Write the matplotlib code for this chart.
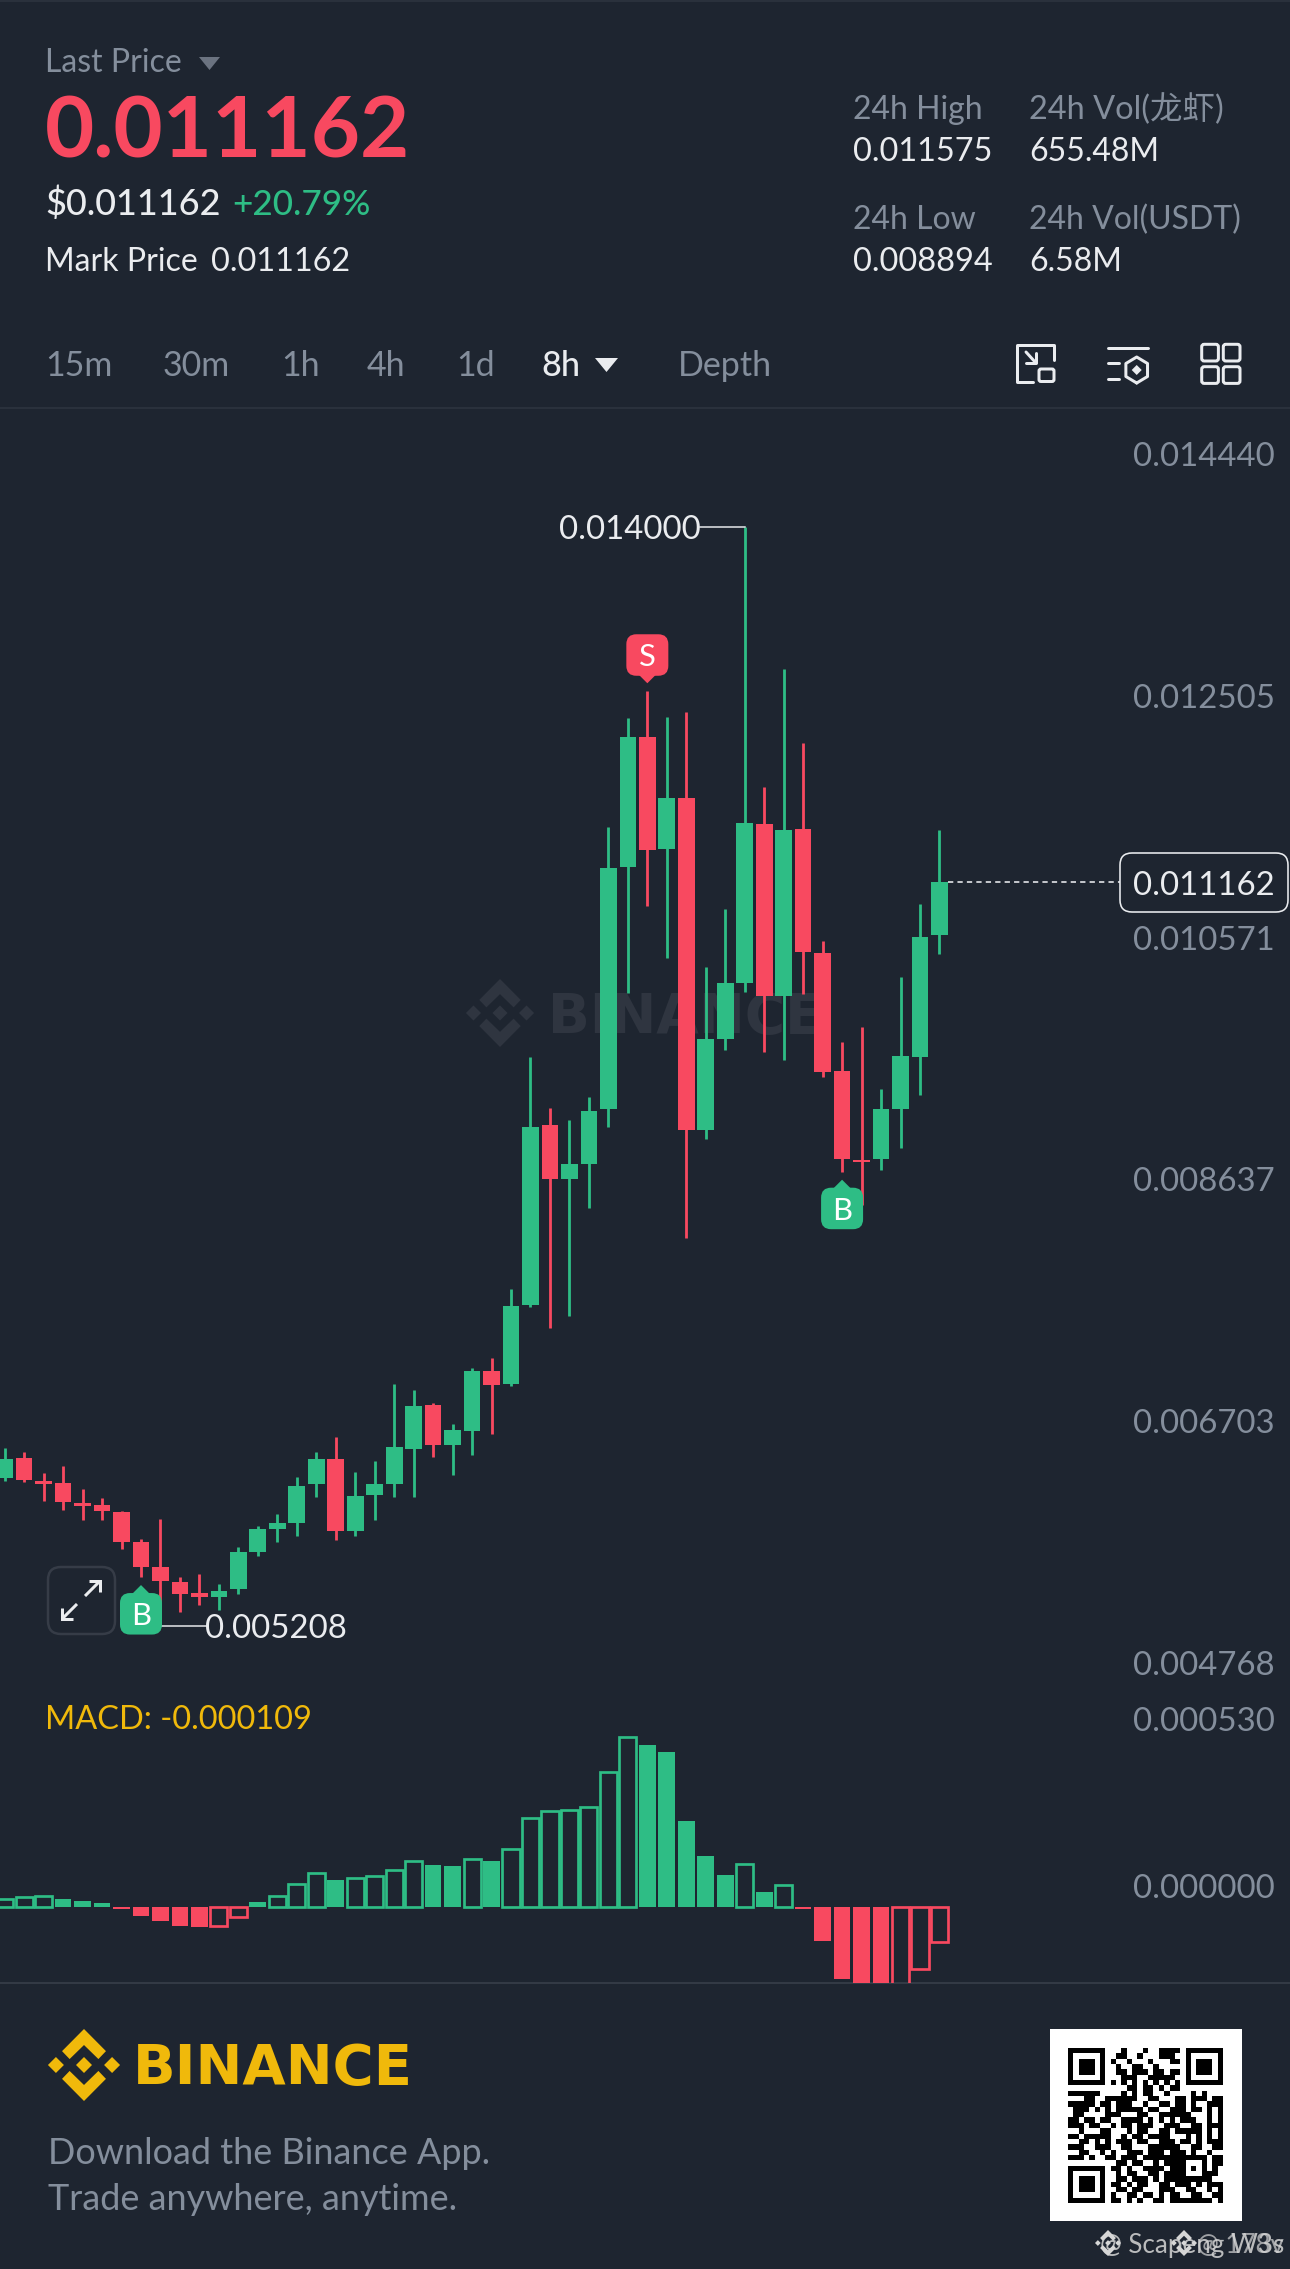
import numpy as np
import matplotlib
matplotlib.use("Agg")
import matplotlib.pyplot as plt
from matplotlib.patches import FancyBboxPatch, Polygon, Rectangle

W, H = 1290, 2269
BG = "#1E2530"
GREEN = "#2EBD85"
RED = "#F84960"
GRAY = "#848E9C"
WHITE = "#EAECEF"
YELLOW = "#F0B90B"
LINE = "#2F3640"

# ---------- data (prices in millionths) ----------
opens = [6392, 6547, 6368, 6347, 6189, 6173, 6118, 5877, 5675, 5555, 5467, 5437, 5501, 5795, 5984, 6030, 6344,
         6539, 5968, 6251, 6342, 6624, 6971, 6656, 6763, 7243, 7139, 7774, 9212, 8785, 8905, 9343, 11282, 12317,
         11421, 11832, 9177, 9901, 10353, 11624, 10245, 11581, 10594, 9647, 8937, 8945, 9340, 9761, 10735]
closes = [6542, 6374, 6344, 6195, 6168, 6128, 5880, 5677, 5563, 5461, 5437, 5488, 5795, 5981, 6027, 6323, 6539,
          5968, 6248, 6339, 6638, 6963, 6656, 6776, 7243, 7136, 7768, 9199, 8785, 8900, 9329, 11269, 12322, 11418,
          11832, 9172, 9901, 10353, 11634, 10245, 11578, 10597, 9641, 8940, 8916, 9340, 9767, 10722, 11162]
highs = [6627, 6595, 6427, 6488, 6299, 6232, 6123, 5901, 6059, 5595, 5619, 5539, 5840, 6008, 6099, 6400, 6595,
         6720, 6440, 6523, 7144, 7096, 6987, 6819, 7267, 7352, 7900, 9756, 9351, 9255, 9436, 11597, 12469, 12686,
         12477, 12517, 10479, 10941, 14000, 11917, 12862, 12269, 10687, 9876, 9997, 9500, 10399, 10986, 11573]
lows = [6368, 6358, 6203, 6131, 6056, 6056, 5819, 5597, 5208, 5315, 5376, 5331, 5464, 5768, 5877, 5923, 6240,
        5896, 5923, 6056, 6240, 6238, 6558, 6414, 6576, 6739, 7128, 7762, 7593, 7688, 8553, 9196, 10269, 10965,
        10554, 8313, 9100, 9817, 10282, 9801, 9737, 10261, 9601, 8841, 8574, 8854, 9033, 9452, 10581]
# macd histogram (millionths)
hist = [25, 31, 34, 23, 18, 11, -7, -28, -46, -59, -63, -61, -33, 15, 34, 70, 105, 83, 90, 97, 115, 142, 130,
        126, 150, 144, 179, 278, 298, 301, 311, 420, 529, 503, 482, 268, 157, 100, 133, 45, 68, -7, -108, -224,
        -260, -250, -245, -194, -109]
hist_hollow = [0, 1, 2, 11, 12, 14, 15, 16, 18, 19, 20, 21, 24, 26, 27, 28, 29, 30, 31, 32, 38, 40, 46, 47, 48]
price_ticks = [0.014440, 0.012505, 0.010571, 0.008637, 0.006703, 0.004768]
macd_ticks = [0.000530, 0.000000]
price_low, price_high = 0.004613, 0.014937
macd_low, macd_high = -0.000238, 0.000551
x_low, x_high = -0.24, 66.0

tabs = ["15m", "30m", "1h", "4h", "1d", "8h", "Depth"]
tab_x = [45, 163, 281, 367, 456, 541, 678]

opens, closes, highs, lows = [np.array(a) * 1e-6 for a in (opens, closes, highs, lows)]
hist = np.array(hist) * 1e-6
idx = np.arange(len(opens))

FONT = ["Lato", "Noto Sans CJK SC", "DejaVu Sans"]
plt.rcParams["font.family"] = FONT

fig = plt.figure(figsize=(W / 100, H / 100), dpi=100, facecolor=BG)


def pixel_axes(z):
    a = fig.add_axes([0, 0, 1, 1], zorder=z)
    a.set_xlim(0, W)
    a.set_ylim(H, 0)
    a.axis("off")
    a.patch.set_alpha(0)
    return a


def band_axes(top, bottom, z):
    a = fig.add_axes([0, 1 - bottom / H, 1, (bottom - top) / H], zorder=z)
    a.patch.set_alpha(0)
    a.axis("off")
    a.set_xlim(x_low, x_high)
    return a


bg = pixel_axes(0)
top = pixel_axes(5)
ax = band_axes(410, 1700, 2)
ax.set_ylim(price_low, price_high)
mx = band_axes(1730, 1983, 2)
mx.set_ylim(macd_low, macd_high)


def px(points_px):
    return points_px * 0.72


def T(a, x, y, s, size, color, weight="normal", ha="left", va="baseline", **kw):
    return a.text(x, y, s, fontsize=px(size), color=color, fontweight=weight, ha=ha, va=va, **kw)


def fx(i):
    return ax.transData.transform((i, 0))[0]


def fy(p):
    return H - ax.transData.transform((0, p))[1]


def logo(a, cx, cy, r, color, z=1):
    dd = 0.222
    for dx, dy in ((0, 0), (-0.78, 0), (0.78, 0)):
        a.add_patch(Polygon([(cx + (dx - dd) * r, cy + dy * r), (cx + dx * r, cy - dd * r),
                             (cx + (dx + dd) * r, cy + dy * r), (cx + dx * r, cy + dd * r)],
                            closed=True, fc=color, ec="none", zorder=z))
    for s in (1, -1):
        chev = [(0, -1), (0.61, -0.385), (0.40, -0.165), (0, -0.555), (-0.40, -0.165), (-0.61, -0.385)]
        a.add_patch(Polygon([(cx + u * r, cy + s * v * r) for u, v in chev], closed=True, fc=color, ec="none", zorder=z))


# ---------- watermark ----------
logo(bg, 500, 1013, 34, "#2F3540")
T(bg, 548, 1033, "BINANCE", 55, "#2F3540", weight="bold", family="DejaVu Sans")

# ---------- candles ----------
BODY = 0.857
WICK = px(2.8)
up = closes >= opens
colors = np.where(up, GREEN, RED)
ax.vlines(idx, lows, highs, colors=list(colors), linewidth=WICK, capstyle="butt", zorder=2)
ax.bar(idx, np.abs(closes - opens), bottom=np.minimum(opens, closes), width=BODY, color=list(colors),
       linewidth=0, zorder=3)

for v, s in zip(price_ticks, [f"{t:.6f}" for t in price_ticks]):
    ax.annotate(s, xy=(1, v), xycoords=("axes fraction", "data"), xytext=(-15, 15), textcoords="offset pixels",
                ha="right", va="center", fontsize=px(33), color=GRAY)

# ---------- macd ----------
hollow = np.isin(idx, hist_hollow)
hcol = np.where(hist >= 0, GREEN, RED)
mx.bar(idx[~hollow], hist[~hollow], width=BODY, color=list(hcol[~hollow]), linewidth=0, zorder=2)
mx.bar(idx[hollow], hist[hollow], width=BODY + 0.02, facecolor="none", edgecolor=list(hcol[hollow]),
       linewidth=px(2.7), zorder=3)
for v, s, off in zip(macd_ticks, [f"{t:.6f}" for t in macd_ticks], (15, 18)):
    mx.annotate(s, xy=(1, v), xycoords=("axes fraction", "data"), xytext=(-15, off), textcoords="offset pixels",
                ha="right", va="center", fontsize=px(33), color=GRAY)

# ---------- header ----------
T(top, 45, 72, "Last Price", 32, GRAY)
top.add_patch(Polygon([(199, 57), (220, 57), (209.5, 70)], closed=True, fc="#6B7380", ec="none"))
T(top, 45, 158, "0.011162", 85, RED, weight="bold")
T(top, 45, 215, "$0.011162", 36, WHITE, weight="medium")
T(top, 232, 215, "+20.79%", 35, GREEN, weight="medium")
T(top, 45, 271, "Mark Price", 32, WHITE)
T(top, 211, 271, "0.011162", 32.5, WHITE)

T(top, 853, 119, "24h High", 32, GRAY)
T(top, 853, 161, "0.011575", 32.5, WHITE)
T(top, 853, 229, "24h Low", 32, GRAY)
T(top, 853, 271, "0.008894", 32.5, WHITE)
T(top, 1029, 119, "24h Vol(龙虾)", 32.5, GRAY)
T(top, 1029, 161, "655.48M", 32, WHITE)
T(top, 1029, 229, "24h Vol(USDT)", 32, GRAY)
T(top, 1029, 271, "6.58M", 32, WHITE)

for s, x in zip(tabs, tab_x):
    sel = s == "8h"
    T(top, x, 376, s, 34, WHITE if sel else GRAY, weight="medium" if sel else "normal")
top.add_patch(Polygon([(595, 358), (618, 358), (606.5, 372)], closed=True, fc=WHITE, ec="none"))

bg.plot([0, W], [408, 408], color=LINE, lw=px(1.5))
bg.plot([0, W], [1, 1], color=LINE, lw=px(1.5))
bg.plot([0, W], [1983, 1983], color="#3A414C", lw=px(1.5))

# icons
ilw = px(3)
ikw = dict(color=WHITE, lw=ilw, solid_capstyle="round", solid_joinstyle="round")
top.plot([1033, 1017, 1017, 1054, 1054], [381.5, 381.5, 344.5, 344.5, 360], **ikw)
top.add_patch(FancyBboxPatch((1039, 369), 15, 12.5, boxstyle="round,pad=0,rounding_size=2", fc="none", ec=WHITE, lw=ilw))
top.plot([1026, 1036], [352, 363], **ikw)
top.plot([1026, 1036, 1036], [363, 363, 353], **ikw)
top.plot([1108.3, 1148.3], [347.7, 347.7], **ikw)
top.plot([1108.3, 1119.3], [363.3, 363.3], **ikw)
top.plot([1108.3, 1119.3], [379.3, 379.3], **ikw)
ang = np.deg2rad(np.arange(90, 451, 60))
top.plot(1136.7 + 12.5 * np.cos(ang), 370 + 13 * np.sin(ang), **ikw)
top.add_patch(Polygon([(1136.7, 365), (1141.7, 370), (1136.7, 375), (1131.7, 370)], closed=True, fc=WHITE, ec="none"))
for x0 in (1201.7, 1223.3):
    for y0 in (344.3, 366.7):
        top.add_patch(FancyBboxPatch((x0, y0), 16.7, 16.7, boxstyle="round,pad=0,rounding_size=2.5", fc="none",
                                     ec=WHITE, lw=ilw))

# ---------- chart annotations ----------
last = closes[-1]
yl = fy(last)
top.plot([fx(48) + 9, 1120], [yl, yl], color=WHITE, lw=px(1.6), dashes=(3.3, 2.6))
top.add_patch(FancyBboxPatch((1120, 853), 168, 59, boxstyle="round,pad=0,rounding_size=12", fc=BG, ec=WHITE,
                             lw=px(1.6), zorder=3))
T(top, 1204, 895, f"{last:.6f}", 33, WHITE, ha="center", zorder=4)

imax = int(np.argmax(highs))
ymax = fy(highs[imax])
top.plot([700, fx(imax)], [ymax, ymax], color=WHITE, lw=px(1.5))
T(top, 559, ymax + 12, f"{highs[imax]:.6f}", 33, WHITE)

imin = int(np.argmin(lows))
ymin = fy(lows[imin])
top.plot([160, 207], [ymin, ymin], color=WHITE, lw=px(1.5))
T(top, 205, ymin + 12, f"{lows[imin]:.6f}", 33, WHITE)


def signal(i, letter, below):
    x = fx(i)
    if below:
        apex = fy(lows[i]) + 8
        y0, color = apex + 8, GREEN
        tri = [(x - 10, y0 + 2), (x, apex), (x + 10, y0 + 2)]
    else:
        apex = fy(highs[i]) - 8
        y0, color = apex - 49, RED
        tri = [(x - 10, y0 + 39), (x, apex), (x + 10, y0 + 39)]
    top.add_patch(Polygon(tri, closed=True, fc=color, ec="none", zorder=4))
    top.add_patch(FancyBboxPatch((x - 21, y0), 42, 41.5, boxstyle="round,pad=0,rounding_size=10", fc=color, ec="none",
                                 zorder=4))
    T(top, x, y0 + 32, letter, 31, "white", ha="center", zorder=5)


signal(7, "B", True)
signal(33, "S", False)
signal(43, "B", True)

# expand button
top.add_patch(FancyBboxPatch((48, 1567), 67, 67, boxstyle="round,pad=0,rounding_size=13", fc=BG, ec="#363C47", lw=px(2.5),
                             zorder=3))
akw = dict(color=WHITE, lw=px(3), solid_capstyle="butt", solid_joinstyle="miter", zorder=4)
top.plot([85, 100], [1596, 1581], **akw)
top.plot([89, 100, 100], [1581, 1581, 1592], **akw)
top.plot([77, 62], [1604, 1619], **akw)
top.plot([62, 62, 73], [1608, 1619, 1619], **akw)

T(top, 45, 1729, "MACD: -0.000109", 32.5, YELLOW)

# ---------- footer ----------
logo(top, 84, 2065, 36, YELLOW)
T(top, 133, 2084.5, "BINANCE", 56, YELLOW, weight="bold", family="DejaVu Sans")
T(top, 48, 2164, "Download the Binance App.", 36, GRAY)
T(top, 48, 2210, "Trade anywhere, anytime.", 36, GRAY)

top.add_patch(Rectangle((1050, 2029), 192, 192, fc="white", ec="none"))
finder = ["1111111", "1000001", "1011101", "1011101", "1011101", "1000001", "1111111", "0000000"]
top_mid = ["0010001001111", "0110010001110", "1001000100011", "0100110010000", "0110111011011", "0011100111110",
           "1010101010101", "0001101101011"]
mid_rows = ["11111100001010110010000101000", "00011001111110011000110111011", "11111011011100100110110100111",
            "01110101011111011001110110101", "01100001110001100111111000101", "11011011001111010101011100101",
            "11101100101101110011100110111", "00100011000101100110111110101", "11011111001011011110001010101",
            "00110101011101100111011010111", "11100111001100011111100110011", "00110010100111011101110100100",
            "11101001101110111111111111011"]
low_right = ["011011001011110001011", "110100111101110101010", "010110011011110001110", "011011101011111111100",
             "110101100110111010111", "011011000111001100101", "100110110101100110011", "110101001101111111101"]
rows = [finder[r] + "0" + top_mid[r] + "0" + finder[r] for r in range(8)]
rows += mid_rows
rows += [finder[(r - 1) % 8] + "0" + low_right[r] for r in range(8)]
qr = np.array([[int(c) for c in r] for r in rows])
top.imshow(1 - qr, cmap="gray", vmin=0, vmax=1, extent=(1068, 1223, 2203, 2048), aspect="auto",
           interpolation="nearest", zorder=3)
top.set_xlim(0, W)
top.set_ylim(H, 0)

WM = "#D6D6D6"
logo(top, 1108, 2243, 13, WM, z=6)
T(top, 1284, 2253, "@ Scapeng W3s", 26, WM, ha="right", alpha=0.85, zorder=6)
logo(top, 1184, 2243, 13, WM, z=6)
T(top, 1284, 2253, "@ 178v", 26, WM, ha="right", alpha=0.7, zorder=6)

fig.savefig("out.png", dpi=100, facecolor=BG)
